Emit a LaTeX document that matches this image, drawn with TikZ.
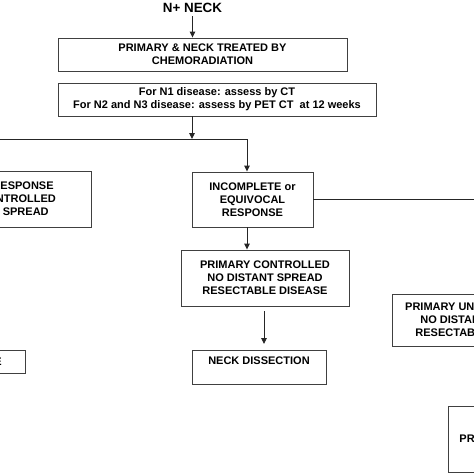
\documentclass[tikz,border=0pt]{standalone}
\usepackage{fontspec}
\setmainfont{Liberation Sans}
\usetikzlibrary{arrows.meta}
\begin{document}
\begin{tikzpicture}[x=1pt,y=-1pt,
  box/.style={draw=black!75, line width=0.9pt, align=center, inner sep=0pt,
    font=\fontsize{11}{13}\selectfont\bfseries, text=black},
  conn/.style={draw=black!85, line width=0.9pt},
  arr/.style={conn, -{Triangle[width=5.5pt,length=6pt]}}]
\useasboundingbox (0,0) rectangle (474,474);
\clip (0,0) rectangle (474,474);
\fill[white] (0,0) rectangle (474,474);

\node[font=\fontsize{13.4}{15}\selectfont\bfseries] (title) at (192.5,8) {N+ NECK};
\node[box, minimum width=289pt, minimum height=33pt] (treat) at (202.5,54.5)
  {PRIMARY \& NECK TREATED BY\\CHEMORADIATION};
\node[box, minimum width=318pt, minimum height=33pt] (assess) at (217,99.5)
  {For N1 disease: assess by CT\\For N2 and N3 disease: assess by PET CT\ \ at 12 weeks};
\coordinate (hmid) at (192,139);
\coordinate (hcorner) at (247,139);

\node[box, minimum width=200pt, minimum height=56pt] (complete) at (-9,199)
  {COMPLETE RESPONSE\\PRIMARY CONTROLLED\\NO DISTANT SPREAD};
\node[box, minimum width=132pt, minimum height=23pt] (surv) at (-41,361.5)
  {SURVEILLANCE};

\node[box, minimum width=121pt, minimum height=55pt] (incomplete) at (252.5,199.5)
  {INCOMPLETE or\\EQUIVOCAL\\RESPONSE};
\node[box, minimum width=168pt, minimum height=56pt] (resect) at (265,278)
  {PRIMARY CONTROLLED\\NO DISTANT SPREAD\\RESECTABLE DISEASE};
\node[box, minimum width=134pt, minimum height=34pt] (neck) at (259,367)
  {NECK DISSECTION\\[0pt]\mbox{}};

\node[box, minimum width=172pt, minimum height=52pt] (uncontrolled) at (478,320)
  {PRIMARY UNCONTROLLED\\NO DISTANT SPREAD\\RESECTABLE DISEASE};
\node[box, anchor=west, minimum height=66pt, inner xsep=11pt, text width=158pt, align=left] (surgery) at (448,439)
  {PRIMARY SURGERY};

\draw[arr] (title.south) -- (title.south |- treat.north);
\draw[arr] (assess.south -| hmid) -- (hmid);
\draw[conn] (hcorner) -| (complete.north);
\draw[arr] (hcorner) -- (hcorner |- incomplete.north);
\draw[arr] (hcorner |- incomplete.south) -- (hcorner |- resect.north);
\draw[arr, shorten <=5pt, shorten >=6pt] (264,306) -- (264 ,350);
\draw[arr] (incomplete.east) -| (uncontrolled.north);
\end{tikzpicture}
\end{document}
